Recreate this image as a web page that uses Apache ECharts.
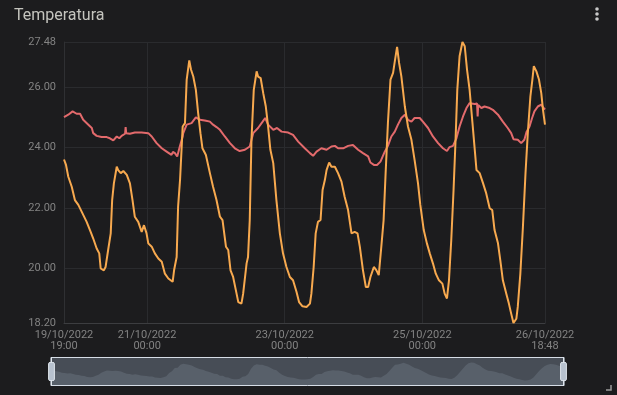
<!DOCTYPE html>
<html><head><meta charset="utf-8">
<script src="https://cdn.jsdelivr.net/npm/echarts@6/dist/echarts.min.js"></script>
<style>html,body{margin:0;padding:0;background:#1c1c1e;}#c{width:617px;height:395px;}</style>
</head><body><div id="c"></div>
<script>
// time origin: 19/10/2022 00:00; series start at 19:00 (hours offsets below)
const originUTC = Date.UTC(2022, 9, 19);
const startHour = 19;
const titleText = 'Temperatura';

const outdoorHours = [0,0.7,1.5,2.7,3.8,5.0,6.2,6.7,7.9,9.3,10.2,11.4,12.3,12.8,13.9,14.5,15.4,16.3,16.8,17.4,18.4,18.9,19.8,20.7,21.9,23.0,23.9,24.7,25.9,27.1,27.9,28.8,29.4,30.6,31.7,32.9,34.1,35.2,36.4,37.9,38.4,39.3,39.8,40.5,41.4,42.2,42.8,43.7,44.3,45.1,46.0,46.8,47.6,48.3,49.5,50.9,52.0,53.2,54.4,55.3,56.5,57.3,58.1,59.0,60.2,60.8,61.9,62.5,63.7,64.2,64.8,65.4,66.2,67.2,67.7,68.6,69.5,70.4,71.2,72.0,73.0,74.1,75.3,76.4,77.6,78.8,79.9,81.1,82.0,83.2,84.6,85.8,86.3,87.1,87.8,88.6,89.5,90.2,91.0,91.6,92.5,93.3,94.5,95.6,96.8,97.9,99.1,100.3,101.4,102.4,103.2,104.3,105.3,106.1,106.9,108.1,109.0,109.8,110.7,111.5,112.2,113.0,113.9,114.8,115.4,116.2,116.9,117.7,118.9,120.0,121.2,122.3,123.5,124.3,125.5,126.6,127.6,128.7,129.7,130.8,132.0,132.8,133.6,134.3,135.1,135.9,136.6,137.2,138.0,139.0,139.8,140.6,141.5,142.5,143.3,143.9,145.0,146.2,147.3,148.5,149.4,150.2,151.4,152.2,153.1,154.3,155.2,156.0,156.8,157.8,158.3,159.2,160.1,161.0,161.8,162.7,163.4,163.9,164.8,165.7,166.5,167.1,167.8];
const outdoorTemps = [23.60,23.42,23.03,22.70,22.26,22.10,21.87,21.93,21.54,21.21,20.99,20.66,20.50,20.00,19.94,20.05,20.61,21.16,22.26,22.81,23.36,23.25,23.15,23.22,23.09,22.81,22.26,21.71,21.54,21.21,21.43,21.16,20.83,20.72,20.50,20.33,20.22,19.83,19.67,19.56,19.94,20.38,22.04,22.95,24.69,24.80,26.24,26.87,26.57,26.34,25.90,25.13,24.47,23.97,23.75,23.15,22.70,22.26,21.71,21.60,20.72,20.61,19.94,19.72,19.17,18.89,18.84,19.17,20.17,20.38,21.60,24.25,25.90,26.51,26.34,26.29,25.79,25.35,24.69,23.92,23.48,22.26,21.16,20.50,20.05,19.72,19.61,19.23,18.89,18.75,18.73,18.84,19.17,20.05,21.16,21.54,21.60,22.59,22.92,23.25,23.50,23.36,23.36,23.15,22.87,22.37,21.93,21.16,21.21,21.16,20.72,19.94,19.39,19.39,19.72,20.05,19.94,19.78,20.72,21.60,23.15,24.80,26.24,26.46,26.84,27.32,26.79,26.34,25.35,24.69,24.25,23.59,22.81,22.10,21.27,20.83,20.50,20.17,19.83,19.61,19.50,19.17,19.01,19.61,20.94,22.59,24.25,25.90,27.01,27.48,27.34,26.57,25.90,24.80,23.92,23.25,23.15,22.81,22.48,21.99,21.93,21.27,20.83,20.28,19.61,19.17,18.84,18.51,18.20,18.34,18.73,19.83,21.38,23.15,24.47,25.68,26.24,26.68,26.51,26.24,25.79,25.24,24.75];

const indoorHours = [0,1.5,3.0,4.4,5.6,6.7,8.5,9.7,10.2,11.4,13.1,14.9,16.0,17.2,18.4,19.3,20.1,21.3,21.5,21.7,23.0,24.7,27.1,29.4,30.6,32.3,34.1,35.8,37.5,38.0,38.7,39.5,40.4,41.4,41.6,42.8,44.5,46.0,47.4,49.1,50.9,52.0,53.2,54.4,56.1,57.9,59.6,61.3,63.1,64.8,66.0,67.7,69.3,70.2,71.2,73.0,74.3,75.9,78.2,79.9,81.7,84.0,85.8,86.9,88.1,89.8,91.6,93.3,94.5,95.6,97.4,99.1,100.8,102.6,104.3,106.1,106.9,108.1,109.2,110.4,111.9,113.0,114.2,115.4,116.5,117.7,118.9,120.0,121.2,122.3,124.1,125.2,127.0,128.7,130.5,132.2,133.6,134.5,135.7,136.9,138.0,139.2,140.4,141.5,143.3,144.1,144.3,144.5,145.6,146.7,148.5,149.6,151.4,153.1,154.8,156.0,156.8,158.3,159.5,160.6,161.4,162.4,163.3,164.1,165.3,166.5,167.3,167.8];
const indoorTemps = [25.00,25.08,25.19,25.11,25.11,24.91,24.75,24.64,24.47,24.38,24.34,24.34,24.30,24.23,24.36,24.30,24.38,24.45,24.67,24.47,24.45,24.49,24.49,24.47,24.36,24.14,23.97,23.86,23.75,23.85,23.81,23.70,24.03,24.36,24.47,24.75,24.80,24.99,24.91,24.89,24.85,24.75,24.67,24.58,24.36,24.14,23.97,23.88,23.92,24.03,24.47,24.64,24.85,24.97,24.75,24.58,24.64,24.52,24.49,24.41,24.19,23.97,23.81,23.72,23.86,23.97,23.92,24.03,24.05,23.97,23.97,24.05,24.08,23.92,23.81,23.70,23.50,23.42,23.42,23.53,23.86,24.05,24.36,24.52,24.75,24.97,25.08,24.91,24.85,24.97,24.97,24.85,24.64,24.36,24.14,23.97,23.88,24.01,24.05,24.30,24.69,25.02,25.30,25.46,25.43,25.45,25.02,25.40,25.30,25.35,25.30,25.24,25.08,24.85,24.64,24.47,24.27,24.25,24.14,24.25,24.52,24.69,24.97,25.19,25.35,25.41,25.30,25.25];

function toDays(h) { return (startHour + h) / 24; }
function pairs(hours, temps) { return hours.map((h, i) => [toDays(h), temps[i]]); }
function pad(n) { return (n < 10 ? '0' : '') + n; }
function fmtX(v) {
  const d = new Date(originUTC + Math.round(v * 1440) * 60000);
  return pad(d.getUTCDate()) + '/' + pad(d.getUTCMonth() + 1) + '/' + d.getUTCFullYear() +
    '\n' + pad(d.getUTCHours()) + ':' + pad(d.getUTCMinutes());
}

const chart = echarts.init(document.getElementById('c'), null, { renderer: 'canvas' });
const labelColor = '#838383';
chart.setOption({
  backgroundColor: '#1c1c1e',
  animation: false,
  title: {
    text: titleText, left: 9, top: 3,
    textStyle: { color: '#c4c4be', fontSize: 16, fontWeight: 'normal', fontFamily: 'Roboto' }
  },
  grid: { left: 64, right: 72, top: 42, bottom: 72, containLabel: false },
  xAxis: {
    type: 'value', min: 'dataMin', max: 'dataMax', splitNumber: 4,
    axisLine: { lineStyle: { color: '#3c3d40' } },
    axisTick: { show: false },
    splitLine: { show: true, lineStyle: { color: '#2a2b2e', width: 1 } },
    axisLabel: {
      color: labelColor, fontSize: 11, fontFamily: 'Roboto', lineHeight: 11, margin: 7,
      showMinLabel: true, showMaxLabel: true, formatter: fmtX
    }
  },
  yAxis: {
    type: 'value', min: 'dataMin', max: 'dataMax', splitNumber: 5,
    axisLine: { show: true, lineStyle: { color: '#2f3033' } },
    axisTick: { show: false },
    splitLine: { show: true, lineStyle: { color: '#2a2b2e', width: 1 } },
    axisLabel: {
      color: labelColor, fontSize: 11, fontFamily: 'Roboto', margin: 8,
      showMinLabel: true, showMaxLabel: true, formatter: v => v.toFixed(2)
    }
  },
  dataZoom: [{
    type: 'slider', xAxisIndex: 0, start: 0, end: 100,
    left: 48, right: 55, top: 357, height: 29,
    showDetail: false, brushSelect: false, moveHandleSize: 0,
    borderColor: '#d6dde6', backgroundColor: 'rgba(0,0,0,0)',
    fillerColor: 'rgba(100,110,124,0.6)',
    handleStyle: { color: '#b7c1ce', borderColor: '#dfe5ec' },
    dataBackground: { lineStyle: { color: '#6f7884', opacity: 0 }, areaStyle: { color: '#7d8691', opacity: 0.45 } },
    selectedDataBackground: { lineStyle: { color: '#6f7884', opacity: 0 }, areaStyle: { color: '#7d8691', opacity: 0.45 } }
  }],
  graphic: [
    { type: 'circle', shape: { cx: 597, cy: 9, r: 1.8 }, style: { fill: '#c8c8c8' } },
    { type: 'circle', shape: { cx: 597, cy: 14, r: 1.8 }, style: { fill: '#c8c8c8' } },
    { type: 'circle', shape: { cx: 597, cy: 19, r: 1.8 }, style: { fill: '#c8c8c8' } },
    { type: 'polyline', shape: { points: [[611, 385], [611, 390], [606, 390]] }, style: { stroke: '#9a9a9a', lineWidth: 1.5, fill: null } }
  ],
  series: [
    {
      name: 'Outdoor', type: 'line', data: pairs(outdoorHours, outdoorTemps),
      showSymbol: false, symbol: 'none', z: 3,
      lineStyle: { color: '#f7a94f', width: 2 }, itemStyle: { color: '#f7a94f' }
    },
    {
      name: 'Indoor', type: 'line', data: pairs(indoorHours, indoorTemps),
      showSymbol: false, symbol: 'none', z: 2,
      lineStyle: { color: '#e36a6c', width: 2 }, itemStyle: { color: '#e36a6c' }
    }
  ]
});
</script>
</body></html>
